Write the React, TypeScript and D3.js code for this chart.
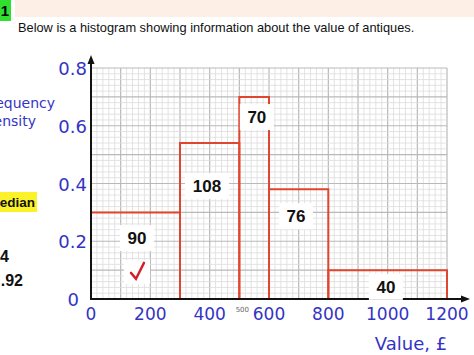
import React, { useEffect, useRef } from 'react';
import * as d3 from 'd3';

// class boundaries (£) and frequencies
const classEdges = [0, 300, 500, 600, 800, 1200];
const frequencies = [90, 108, 70, 76, 40];

const xTicks = [0, 200, 400, 600, 800, 1000, 1200];
const yTicks = [0.2, 0.4, 0.6, 0.8];

// written-on annotations, placed in data units
const labelText = ['90', '108', '70', '76', '40'];
const labelX = [155, 391, 559, 691, 994];
const labelY = [0.211, 0.391, 0.63, 0.287, 0.042];

const W = 474;
const H = 355;
const BLUE = '#3434c4';
const RED = '#e0452f';

const App: React.FC = () => {
  const svgRef = useRef<SVGSVGElement>(null);

  useEffect(() => {
    const svg = d3.select(svgRef.current);
    svg.selectAll('*').remove();

    const x = d3.scaleLinear().domain([0, 1200]).range([91, 447]);
    const y = d3.scaleLinear().domain([0, 0.8]).range([299, 68]);

    // header
    svg.append('rect').attr('x', 15).attr('y', 0).attr('width', W - 15).attr('height', 17).attr('fill', '#fdeee6');
    svg.append('rect').attr('x', 0).attr('y', 0).attr('width', 11).attr('height', 21).attr('fill', '#2fe02f');
    svg.append('text').attr('x', 5).attr('y', 16).attr('text-anchor', 'middle')
      .style('font', 'bold 15px "Liberation Sans", Arial, sans-serif').text('1');
    svg.append('text').attr('x', 18).attr('y', 32)
      .style('font', '12.8px "Liberation Sans", Arial, sans-serif').attr('fill', '#111')
      .text('Below is a histogram showing information about the value of antiques.');

    // graph paper
    const grid = svg.append('g');
    const minorX = d3.range(0, 1201, 20);
    const minorY = d3.range(0, 0.8001, 0.02);
    grid.selectAll('.vx').data(minorX).enter().append('line')
      .attr('x1', d => x(d)).attr('x2', d => x(d)).attr('y1', y(0)).attr('y2', y(0.8))
      .attr('stroke', d => (d % 100 === 0 ? '#b9b9b9' : '#dcdcdc'))
      .attr('stroke-width', d => (d % 100 === 0 ? 1.2 : 0.8));
    grid.selectAll('.hy').data(minorY).enter().append('line')
      .attr('x1', x(0)).attr('x2', x(1200)).attr('y1', d => y(d)).attr('y2', d => y(d))
      .attr('stroke', (d, i) => (i % 5 === 0 ? '#b9b9b9' : '#dcdcdc'))
      .attr('stroke-width', (d, i) => (i % 5 === 0 ? 1.2 : 0.8));

    // histogram bars (frequency density = frequency / class width)
    const bars = frequencies.map((f, i) => ({
      x0: classEdges[i],
      x1: classEdges[i + 1],
      fd: f / (classEdges[i + 1] - classEdges[i])
    }));
    svg.append('g').selectAll('path').data(bars).enter().append('path')
      .attr('d', d => `M${x(d.x0)},${y(0)}V${y(d.fd)}H${x(d.x1)}V${y(0)}`)
      .attr('fill', 'none').attr('stroke', RED).attr('stroke-width', 2);

    // axes with arrows
    svg.append('line').attr('x1', x(0)).attr('x2', x(0)).attr('y1', y(0) + 1).attr('y2', 62)
      .attr('stroke', '#111').attr('stroke-width', 2);
    svg.append('path').attr('d', `M${x(0)},55L${x(0) - 3.5},64L${x(0) + 3.5},64Z`).attr('fill', '#111');
    svg.append('line').attr('x1', x(0) - 1).attr('x2', 463).attr('y1', y(0)).attr('y2', y(0))
      .attr('stroke', '#111').attr('stroke-width', 2);
    svg.append('path').attr('d', `M470,${y(0)}L461,${y(0) - 3.5}L461,${y(0) + 3.5}Z`).attr('fill', '#111');

    const tickFont = '17px "DejaVu Sans", sans-serif';
    svg.append('g').selectAll('text').data(xTicks).enter().append('text')
      .attr('x', d => x(d)).attr('y', 320).attr('text-anchor', 'middle')
      .style('font', tickFont).attr('fill', BLUE).text(d => d);
    svg.append('g').selectAll('text').data(yTicks).enter().append('text')
      .attr('x', 87).attr('y', d => y(d) + 7).attr('text-anchor', 'end')
      .style('font', '18px "DejaVu Sans", sans-serif').attr('fill', BLUE).text(d => d.toFixed(1));
    svg.append('text').attr('x', 79).attr('y', 306).attr('text-anchor', 'end')
      .style('font', '18px "DejaVu Sans", sans-serif').attr('fill', BLUE).text('0');
    svg.append('text').attr('x', x(500) + 3).attr('y', 312).attr('text-anchor', 'middle')
      .style('font', '7px "DejaVu Sans", sans-serif').attr('fill', '#666').text('500');
    svg.append('text').attr('x', 411).attr('y', 350).attr('text-anchor', 'middle')
      .style('font', '18px "DejaVu Sans", sans-serif').attr('fill', BLUE).text('Value, £');

    // frequency labels in white boxes
    const lab = svg.append('g');
    labelText.forEach((t, i) => {
      const cx = x(labelX[i]);
      const cy = y(labelY[i]);
      const bw = t.length * 10 + 14;
      lab.append('rect').attr('x', cx - bw / 2).attr('y', cy - 13).attr('width', bw).attr('height', 26).attr('fill', '#fff');
      lab.append('text').attr('x', cx).attr('y', cy + 6).attr('text-anchor', 'middle')
        .style('font', 'bold 17px "Liberation Sans", Arial, sans-serif').attr('fill', '#111').text(t);
    });
    // tick mark
    lab.append('rect').attr('x', x(155) - 13).attr('y', y(0.094) - 12).attr('width', 26).attr('height', 24).attr('fill', '#fff');
    lab.append('path')
      .attr('d', `M${x(155) - 6},${y(0.094) + 1}L${x(155) - 1},${y(0.094) + 7}L${x(155) + 7},${y(0.094) - 9}`)
      .attr('fill', 'none').attr('stroke', '#d0202a').attr('stroke-width', 2.4).attr('stroke-linecap', 'round');

    // cropped margin notes on the left
    const noteFont = '14px "DejaVu Sans", sans-serif';
    svg.append('text').attr('x', 55).attr('y', 108).attr('text-anchor', 'end')
      .style('font', noteFont).attr('fill', BLUE).text('Frequency');
    svg.append('text').attr('x', 36).attr('y', 126).attr('text-anchor', 'end')
      .style('font', noteFont).attr('fill', BLUE).text('density');
    svg.append('rect').attr('x', 0).attr('y', 192).attr('width', 37).attr('height', 20).attr('fill', '#fbf22a');
    svg.append('text').attr('x', 35).attr('y', 207).attr('text-anchor', 'end')
      .style('font', 'bold 13.5px "Liberation Sans", Arial, sans-serif').attr('fill', '#111').text('Median');
    svg.append('text').attr('x', 9).attr('y', 262).attr('text-anchor', 'end')
      .style('font', 'bold 16px "Liberation Sans", Arial, sans-serif').attr('fill', '#111').text('4');
    svg.append('text').attr('x', 23).attr('y', 286).attr('text-anchor', 'end')
      .style('font', 'bold 16px "Liberation Sans", Arial, sans-serif').attr('fill', '#111').text('.92');
  }, []);

  return (
    <svg ref={svgRef} width={W} height={H}
      style={{ position: 'absolute', left: 0, top: 0, background: '#fff' }} />
  );
};

export default App;
